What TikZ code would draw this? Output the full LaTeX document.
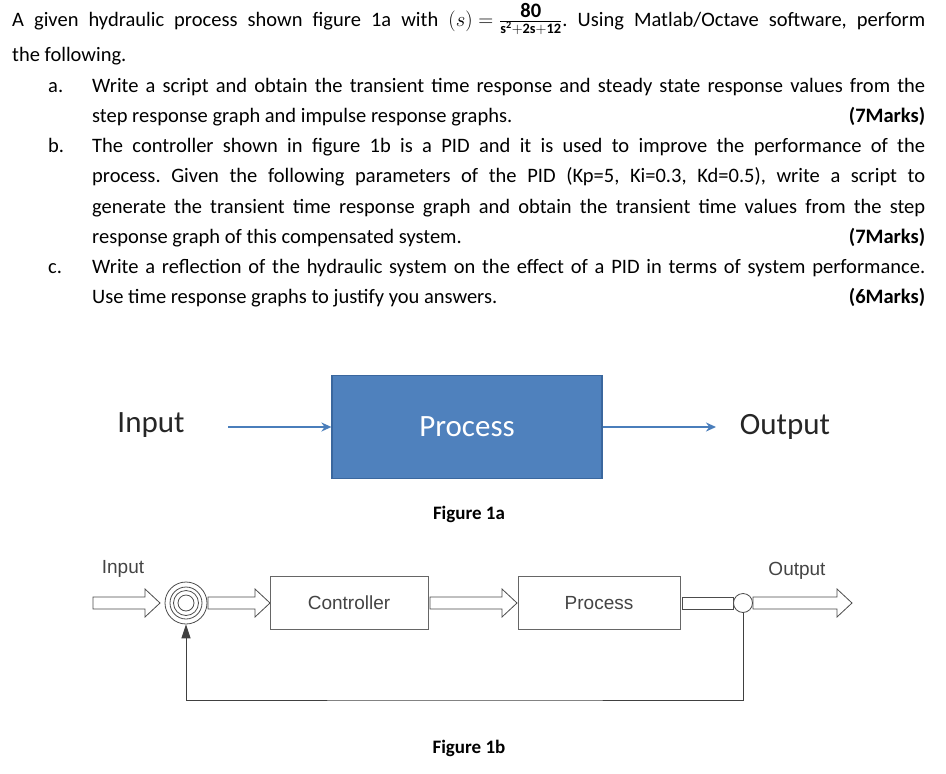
\documentclass[tikz,border=0pt]{standalone}
\usepackage{fontspec}
\setmainfont{Carlito}
\newfontfamily\arialf{Liberation Sans}
\usetikzlibrary{arrows.meta}
\definecolor{pblue}{HTML}{4F81BD}
\definecolor{pborder}{HTML}{3A679E}
\definecolor{ablue}{HTML}{4A7EBB}
\definecolor{gtxt}{HTML}{444444}
\frenchspacing
\newcommand{\harr}[3]{\draw[hol] (#1,#3-6) -- (#2-15,#3-6) -- (#2-15,#3-14) -- (#2,#3) -- (#2-15,#3+14) -- (#2-15,#3+6) -- (#1,#3+6) -- cycle;}
\newcommand{\jl}[1]{\makebox[833pt][s]{#1}}
\begin{document}
\begin{tikzpicture}[x=1pt,y=-1pt,
  body/.style={anchor=base west,inner sep=0pt,font=\fontsize{20.5}{22}\selectfont},
  hol/.style={draw=black!70,fill=white,line width=0.8pt},
  bbox/.style={draw=black!60,line width=0.8pt,fill=white,font=\arialf\fontsize{19}{22}\selectfont,text=gtxt},
  glab/.style={font=\arialf\fontsize{19}{22}\selectfont,text=gtxt,inner sep=0pt},
  big/.style={font=\fontsize{31}{32}\selectfont,text=black!85,inner sep=0pt},
  fcap/.style={font=\bfseries\fontsize{19}{20}\selectfont},
  blu/.style={draw=ablue,line width=2pt,-{Stealth[length=10pt,width=9pt]}}]
\useasboundingbox (0,0) rectangle (946,774);
\node[body] (l1) at (12,26) {\makebox[913pt][s]{A given hydraulic process shown figure 1a with \mbox{$(s)=\frac{\textbf{80}}{\mathbf{s^2+2s+12}}$.} Using Matlab/Octave software, perform}};
\node[body] (l2) at (12,61) {the following.};
\node[body] (ma) at (48,92) {a.};
\node[body] (mb) at (48,152) {b.};
\node[body] (mc) at (48,273) {c.};
\node[body] (a1) at (92,92) {\jl{Write a script and obtain the transient time response and steady state response values from the}};
\node[body] (a2) at (92,122) {\jl{step response graph and impulse response graphs.\hfill\textbf{(7Marks)}}};
\node[body] (b1) at (92,152) {\jl{The controller shown in figure 1b is a PID and it is used to improve the performance of the}};
\node[body] (b2) at (92,182) {\jl{process. Given the following parameters of the PID (Kp=5, Ki=0.3, Kd=0.5), write a script to}};
\node[body] (b3) at (92,213) {\jl{generate the transient time response graph and obtain the transient time values from the step}};
\node[body] (b4) at (92,243) {\jl{response graph of this compensated system.\hfill\textbf{(7Marks)}}};
\node[body] (c1) at (92,273) {\jl{Write a reflection of the hydraulic system on the effect of a PID in terms of system performance.}};
\node[body] (c2) at (92,303) {\jl{Use time response graphs to justify you answers.\hfill\textbf{(6Marks)}}};
% Figure 1a
\node[draw=pborder,line width=1.2pt,fill=pblue,minimum width=270pt,minimum height=103pt,inner sep=0pt,font=\fontsize{31}{32}\selectfont,text=white] (proc) at (467,427) {Process};
\node[big] (inp) at (151,425) {Input};
\node[big] (outp) at (785,427) {Output};
\coordinate (ia) at (228,427);
\coordinate (oa) at (716,427);
\draw[blu] (ia) -- (proc.west);
\draw[blu] (proc.east) -- (oa);
\node[fcap] (f1a) at (469,514) {Figure 1a};
% Figure 1b
\node[glab] (in2) at (123,569) {Input};
\node[glab] (out2) at (797,571) {Output};
\harr{93}{160}{603}
\node[circle,draw=black!70,line width=0.8pt,minimum size=42pt,inner sep=0pt] (sum) at (186,603) {};
\draw[black!70,line width=0.8pt] (sum) circle (16) (sum) circle (12.5) (sum) circle (8);
\harr{208}{270}{603}
\node[bbox,minimum width=158pt,minimum height=53pt] (ctrl) at (349,603) {Controller};
\harr{430}{517}{603}
\node[bbox,minimum width=162pt,minimum height=53pt] (proc2) at (599,603) {Process};
\draw[hol] (682,597) rectangle (733,609);
\node[circle,draw=black!70,fill=white,line width=0.8pt,minimum size=19pt,inner sep=0pt] (tap) at (743,603) {};
\harr{753}{852}{603}
\draw[black!75,line width=1pt] (tap.south) |- (465,700) -| (186,640);
\draw[black!75,line width=1pt,-{Triangle[length=14pt,width=9pt]}] (186,641) -- (sum.south);
\node[fcap] (f1b) at (469,748) {Figure 1b};
\end{tikzpicture}
\end{document}
